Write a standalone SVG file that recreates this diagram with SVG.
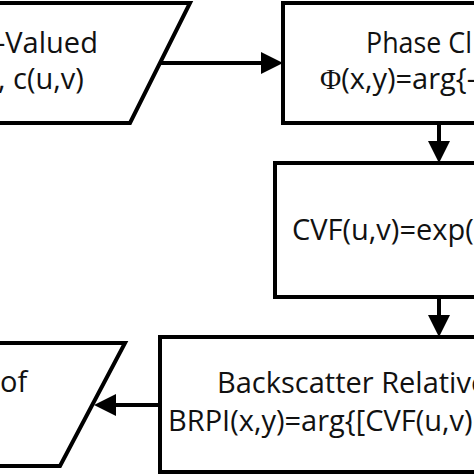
<svg xmlns="http://www.w3.org/2000/svg" width="474" height="474" viewBox="0 0 474 474">
<defs>
<style>
.shape{fill:#fff;stroke:#000;stroke-width:4;stroke-linejoin:miter}
.line{stroke:#000;stroke-width:4;fill:none}
.head{fill:#000}
text{font-family:"Open Sans","Noto Sans",sans-serif;font-size:29px;fill:#111}
.phi{font-family:"Liberation Serif","DejaVu Serif",serif}
</style>
</defs>
<rect width="474" height="474" fill="#fff"/>
<g id="input">
<polygon class="shape" points="-10,3 190,3 130,123 -10,123"/>
<text x="-4" y="53">-Valued</text>
<text x="-2" y="89">, c(u,v)</text>
</g>
<g id="phase">
<rect class="shape" x="283" y="3" width="200" height="120"/>
<text x="366" y="53" textLength="106" lengthAdjust="spacingAndGlyphs">Phase Cl</text>
<text x="320" y="89"><tspan class="phi">Φ</tspan>(x,y)=arg{-</text>
</g>
<g id="cvf">
<rect class="shape" x="275" y="163" width="210" height="134"/>
<text x="292" y="240">CVF(u,v)=exp(</text>
</g>
<g id="brpi">
<rect class="shape" x="160" y="337" width="330" height="135"/>
<text x="217" y="393">Backscatter Relative</text>
<text x="168" y="431">BRPI(x,y)=arg{[CVF(u,v)</text>
</g>
<g id="output">
<polygon class="shape" points="-10,343 125,343 60,466 -10,466"/>
<text x="0" y="392">of</text>
</g>
<g id="connectors">
<line class="line" x1="161" y1="63" x2="264" y2="63"/>
<polygon class="head" points="283,63 261,52 261,74"/>
<line class="line" x1="439" y1="123" x2="439" y2="145"/>
<polygon class="head" points="439,163 428,141 450,141"/>
<line class="line" x1="439" y1="297" x2="439" y2="319"/>
<polygon class="head" points="439,337 428,315 450,315"/>
<line class="line" x1="160" y1="405" x2="112" y2="405"/>
<polygon class="head" points="94,405 116,394 116,416"/>
</g>
</svg>
